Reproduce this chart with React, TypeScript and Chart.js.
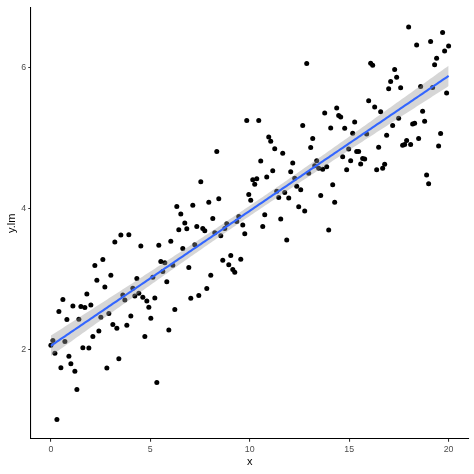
import { useEffect, useRef } from "react";
import { Chart, registerables } from "chart.js";

Chart.register(...registerables);

// x: 200 evenly spaced values from 0 to 20
const xValues = [
  0, 0.101, 0.201, 0.302, 0.402, 0.503, 0.603, 0.704, 0.804, 0.905,
  1.005, 1.106, 1.206, 1.307, 1.407, 1.508, 1.608, 1.709, 1.809, 1.91,
  2.01, 2.111, 2.211, 2.312, 2.412, 2.513, 2.613, 2.714, 2.814, 2.915,
  3.015, 3.116, 3.216, 3.317, 3.417, 3.518, 3.618, 3.719, 3.819, 3.92,
  4.02, 4.121, 4.221, 4.322, 4.422, 4.523, 4.623, 4.724, 4.824, 4.925,
  5.025, 5.126, 5.226, 5.327, 5.427, 5.528, 5.628, 5.729, 5.829, 5.93,
  6.03, 6.131, 6.231, 6.332, 6.432, 6.533, 6.633, 6.734, 6.834, 6.935,
  7.035, 7.136, 7.236, 7.337, 7.437, 7.538, 7.638, 7.739, 7.839, 7.94,
  8.04, 8.141, 8.241, 8.342, 8.442, 8.543, 8.643, 8.744, 8.844, 8.945,
  9.045, 9.146, 9.246, 9.347, 9.447, 9.548, 9.648, 9.749, 9.849, 9.95,
  10.05, 10.151, 10.251, 10.352, 10.452, 10.553, 10.653, 10.754, 10.854, 10.955,
  11.055, 11.156, 11.256, 11.357, 11.457, 11.558, 11.658, 11.759, 11.859, 11.96,
  12.06, 12.161, 12.261, 12.362, 12.462, 12.563, 12.663, 12.764, 12.864, 12.965,
  13.065, 13.166, 13.266, 13.367, 13.467, 13.568, 13.668, 13.769, 13.869, 13.97,
  14.07, 14.171, 14.271, 14.372, 14.472, 14.573, 14.673, 14.774, 14.874, 14.975,
  15.075, 15.176, 15.276, 15.377, 15.477, 15.578, 15.678, 15.779, 15.879, 15.98,
  16.08, 16.181, 16.281, 16.382, 16.482, 16.583, 16.683, 16.784, 16.884, 16.985,
  17.085, 17.186, 17.286, 17.387, 17.487, 17.588, 17.688, 17.789, 17.889, 17.99,
  18.09, 18.191, 18.291, 18.392, 18.492, 18.593, 18.693, 18.794, 18.894, 18.995,
  19.095, 19.196, 19.296, 19.397, 19.497, 19.598, 19.698, 19.799, 19.899, 20,
];

const yValues = [
  2.056, 2.123, 1.939, 1.002, 2.532, 1.736, 2.702, 2.109, 2.419, 1.897,
  1.792, 2.611, 1.685, 1.425, 2.424, 2.603, 2.018, 2.589, 2.781, 2.014,
  2.625, 2.179, 3.186, 2.978, 2.258, 2.452, 3.271, 2.88, 1.732, 2.504,
  3.049, 2.349, 3.521, 2.296, 1.863, 3.619, 2.767, 2.696, 2.339, 3.624,
  2.47, 2.865, 2.753, 3.002, 2.791, 3.464, 2.734, 2.179, 2.682, 2.593,
  2.438, 3.021, 2.724, 1.524, 3.473, 3.242, 3.101, 3.224, 2.956, 2.272,
  3.529, 3.19, 2.56, 4.023, 3.694, 3.916, 3.426, 3.789, 3.708, 3.158,
  2.72, 4.043, 3.482, 3.741, 2.762, 4.376, 3.713, 3.68, 2.861, 4.085,
  3.049, 3.854, 3.652, 4.805, 4.132, 3.609, 3.261, 3.713, 3.779, 3.196,
  3.327, 3.129, 3.091, 3.811, 3.882, 3.275, 3.761, 3.638, 5.243, 4.193,
  4.113, 4.404, 4.339, 4.418, 5.243, 4.668, 3.741, 3.906, 4.442, 5.011,
  4.951, 4.531, 4.842, 4.241, 4.15, 3.845, 4.781, 4.221, 3.549, 4.146,
  4.517, 4.64, 4.424, 4.311, 4.019, 4.263, 5.172, 3.958, 6.052, 4.495,
  4.862, 4.989, 4.602, 4.673, 4.565, 4.178, 4.551, 5.35, 4.588, 3.69,
  5.139, 4.334, 4.085, 5.421, 5.314, 5.294, 4.729, 5.134, 4.546, 4.838,
  4.673, 5.064, 5.223, 4.805, 4.805, 4.626, 4.706, 4.697, 5.054, 5.525,
  6.056, 6.028, 5.435, 4.546, 4.866, 5.37, 4.565, 4.622, 5.035, 5.695,
  5.798, 5.172, 5.967, 5.859, 5.275, 5.709, 4.894, 4.904, 4.961, 6.57,
  4.904, 5.195, 5.205, 6.316, 4.989, 5.727, 5.374, 5.233, 4.471, 4.348,
  6.367, 5.713, 6.034, 6.127, 4.884, 5.059, 6.494, 6.231, 5.633, 6.302,
];

const xTicks = [0, 5, 10, 15, 20];
const yTicks = [2, 4, 6];
const xTitle = "x";
const yTitle = "y.lm";

const FONT = "'Liberation Sans', Arial, Helvetica, sans-serif";

function linearFit(xs: number[], ys: number[]) {
  const n = xs.length;
  const mx = xs.reduce((a, b) => a + b, 0) / n;
  const my = ys.reduce((a, b) => a + b, 0) / n;
  let sxx = 0;
  let sxy = 0;
  for (let i = 0; i < n; i++) {
    sxx += (xs[i] - mx) ** 2;
    sxy += (xs[i] - mx) * (ys[i] - my);
  }
  const b = sxy / sxx;
  const a = my - b * mx;
  let sse = 0;
  for (let i = 0; i < n; i++) sse += (ys[i] - a - b * xs[i]) ** 2;
  const s = Math.sqrt(sse / (n - 2));
  const t = 1.972; // t quantile 0.975, df 198
  const fit = xs.map((x) => ({ x, y: a + b * x }));
  const se = xs.map((x) => s * Math.sqrt(1 / n + (x - mx) ** 2 / sxx));
  const upper = xs.map((x, i) => ({ x, y: a + b * x + t * se[i] }));
  const lower = xs.map((x, i) => ({ x, y: a + b * x - t * se[i] }));
  return { fit, upper, lower };
}

export default function App() {
  const ref = useRef<HTMLCanvasElement | null>(null);

  useEffect(() => {
    const canvas = ref.current;
    if (!canvas) return;
    const { fit, upper, lower } = linearFit(xValues, yValues);
    const points = xValues.map((x, i) => ({ x, y: yValues[i] }));

    const xMinD = Math.min(...xValues);
    const xMaxD = Math.max(...xValues);
    const yMinD = Math.min(...yValues);
    const yMaxD = Math.max(...yValues);
    const xPad = (xMaxD - xMinD) * 0.05;
    const yPad = (yMaxD - yMinD) * 0.05;

    const tickFont = { family: FONT, size: 8.8 };
    const titleFont = { family: FONT, size: 11 };

    const chart = new Chart(canvas, {
      type: "scatter",
      data: {
        datasets: [
          {
            type: "line",
            label: "fit",
            data: fit,
            borderColor: "#3366FF",
            borderWidth: 2.1,
            pointRadius: 0,
            fill: false,
            order: 0,
          },
          {
            type: "line",
            label: "upper",
            data: upper,
            borderColor: "rgba(0,0,0,0)",
            borderWidth: 1,
            pointRadius: 0,
            fill: false,
            order: 1,
          },
          {
            type: "line",
            label: "lower",
            data: lower,
            borderColor: "rgba(0,0,0,0)",
            borderWidth: 1,
            pointRadius: 0,
            fill: { target: 1 },
            backgroundColor: "rgba(153,153,153,0.4)",
            order: 2,
          },
          {
            type: "scatter",
            label: "points",
            data: points,
            pointRadius: 2.5,
            pointBackgroundColor: "#000000",
            pointBorderWidth: 0,
            borderWidth: 0,
            order: 3,
          },
        ],
      } as any,
      options: {
        responsive: false,
        animation: false,
        devicePixelRatio: 1,
        layout: { padding: { top: 5.5, right: 5.5, left: 0, bottom: 0 } },
        plugins: {
          legend: { display: false },
          tooltip: { enabled: false },
        },
        scales: {
          x: {
            type: "linear",
            min: xMinD - xPad,
            max: xMaxD + xPad,
            afterBuildTicks: (s: any) => {
              s.ticks = xTicks.map((v) => ({ value: v }));
            },
            afterFit: (s: any) => {
              s.height = 35;
            },
            grid: {
              display: true,
              drawOnChartArea: false,
              drawTicks: true,
              tickLength: 2.75,
              color: "#333333",
              lineWidth: 1.07,
            },
            border: { display: true, color: "#000000", width: 1.07 },
            ticks: {
              color: "#4D4D4D",
              font: tickFont,
              padding: 2.2,
              maxRotation: 0,
              autoSkip: false,
            },
            title: {
              display: true,
              text: xTitle,
              color: "#000000",
              font: titleFont,
              padding: { top: 0, bottom: 5.7 },
            },
          },
          y: {
            type: "linear",
            min: yMinD - yPad,
            max: yMaxD + yPad,
            afterBuildTicks: (s: any) => {
              s.ticks = yTicks.map((v) => ({ value: v }));
            },
            afterFit: (s: any) => {
              s.width = 31;
            },
            grid: {
              display: true,
              drawOnChartArea: false,
              drawTicks: true,
              tickLength: 2.75,
              color: "#333333",
              lineWidth: 1.07,
            },
            border: { display: true, color: "#000000", width: 1.07 },
            ticks: {
              color: "#4D4D4D",
              font: tickFont,
              padding: 2.2,
              autoSkip: false,
            },
            title: {
              display: true,
              text: yTitle,
              color: "#000000",
              font: titleFont,
              padding: { top: 5.1, bottom: 0 },
            },
          },
        },
      } as any,
    });
    return () => chart.destroy();
  }, []);

  return (
    <div style={{ position: "absolute", left: 0, top: 0, width: 474, height: 474, background: "#fff" }}>
      <canvas ref={ref} width={474} height={474} style={{ display: "block" }} />
    </div>
  );
}
